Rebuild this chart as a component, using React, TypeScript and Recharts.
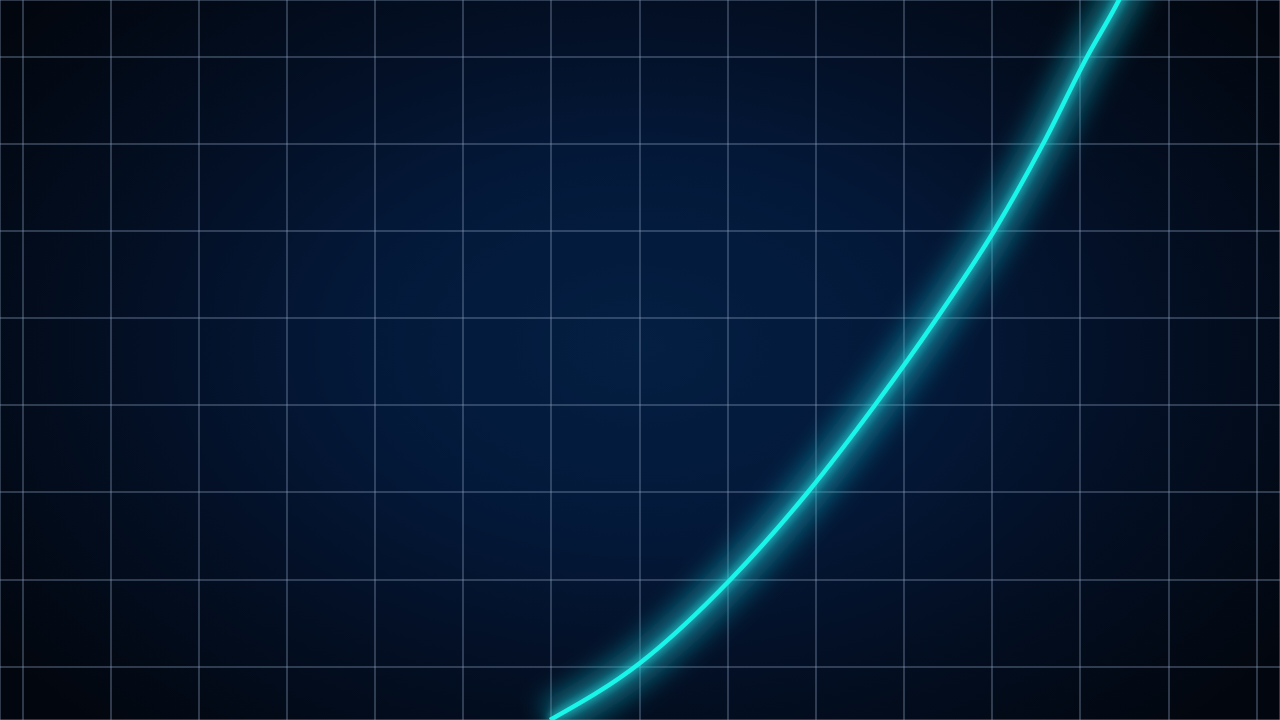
import { CartesianGrid, Line, LineChart, XAxis, YAxis } from "recharts";

// curve (x in px across, value = height above the bottom edge)
const curveX = [550, 640, 730, 808, 875, 937, 994, 1043, 1087, 1119, 1143];
const curveY = [0, 57, 140, 228, 315, 402, 489, 576, 663, 720, 770];

const xTicks = [23, 111, 199, 287, 375, 463, 551, 640, 728, 816, 904, 992, 1080, 1169, 1257];
const yTicks = [53, 140, 228, 315, 402, 489, 576, 663];

const data = curveX.map((x, i) => ({ x, y: curveY[i] }));

const W = 1280;
const H = 720;

const App = () => {
  return (
    <div
      style={{
        position: "absolute",
        left: 0,
        top: 0,
        width: W,
        height: H,
        overflow: "hidden",
        background:
          "radial-gradient(ellipse 62% 72% at 50% 48%, #031f42 0%, #03193a 35%, #030f24 65%, #02070f 100%)",
      }}
    >
      <LineChart width={W} height={H} data={data} margin={{ top: 0, right: 0, bottom: 0, left: 0 }}>
        <defs>
          <filter id="glow" x="-50%" y="-50%" width="200%" height="200%">
            <feGaussianBlur stdDeviation="12" />
          </filter>
          <filter id="glowSoft" x="-50%" y="-50%" width="200%" height="200%">
            <feGaussianBlur stdDeviation="4" />
          </filter>
        </defs>
        <CartesianGrid stroke="rgba(140,160,190,0.33)" strokeWidth={2} />
        <XAxis dataKey="x" type="number" domain={[0, W]} ticks={xTicks} hide allowDataOverflow />
        <YAxis type="number" domain={[0, H]} ticks={yTicks} hide allowDataOverflow />
        <Line
          dataKey="y"
          type="monotone"
          stroke="#0fb4c8"
          strokeOpacity={0.5}
          strokeWidth={40}
          dot={false}
          activeDot={false}
          filter="url(#glow)"
          isAnimationActive={false}
        />
        <Line
          dataKey="y"
          type="monotone"
          stroke="#2be8e8"
          strokeOpacity={0.55}
          strokeWidth={10}
          dot={false}
          activeDot={false}
          filter="url(#glowSoft)"
          isAnimationActive={false}
        />
        <Line
          dataKey="y"
          type="monotone"
          stroke="#1af5ea"
          strokeWidth={4.5}
          dot={false}
          activeDot={false}
          isAnimationActive={false}
        />
      </LineChart>
    </div>
  );
};

export default App;
